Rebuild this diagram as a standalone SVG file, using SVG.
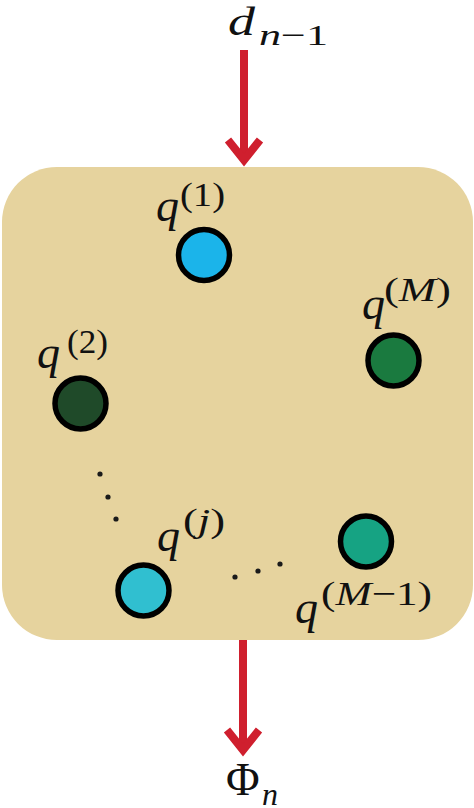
<svg xmlns="http://www.w3.org/2000/svg" width="474" height="808" viewBox="0 0 474 808">
<defs>
<style>
.box{fill:#e6d39e;}
.arrow{fill:none;stroke:#cf1f2e;stroke-width:8;stroke-linejoin:miter;stroke-miterlimit:10;}
.node{stroke:#000;stroke-width:5.5;}
.dot{fill:#1a1a1a;}
text{font-family:'Liberation Serif','DejaVu Serif',serif;fill:#111;}
.it{font-style:italic;}
.up{font-style:normal;}
</style>
</defs>
<rect width="474" height="808" fill="#ffffff"/>
<rect id="container" class="box" x="2" y="167" width="471" height="473" rx="55" ry="55"/>
<g id="connectors">
<line class="arrow" x1="244" y1="50" x2="244" y2="160"/>
<polyline class="arrow" points="228,140 244,160 260,140"/>
<line class="arrow" x1="243" y1="640" x2="243" y2="750"/>
<polyline class="arrow" points="227,730 243,750 259,730"/>
</g>
<g id="input-label">
<text class="it" x="228" y="35" font-size="40" textLength="27" lengthAdjust="spacingAndGlyphs">d</text>
<text class="it" x="259" y="45" font-size="30" textLength="69" lengthAdjust="spacingAndGlyphs">n<tspan class="up">−1</tspan></text>
</g>
<g id="output-label">
<text class="up" x="226" y="795" font-size="46">Φ</text>
<text class="it" x="262" y="805" font-size="32">n</text>
</g>
<g id="node-q1">
<circle class="node" cx="204" cy="255" r="25.5" fill="#1bb4ea"/>
<text class="it" x="156" y="221" font-size="46">q</text>
<text class="up" x="180" y="206" font-size="34" textLength="45" lengthAdjust="spacingAndGlyphs">(1)</text>
</g>
<g id="node-q2">
<circle class="node" cx="80.5" cy="403.5" r="25.5" fill="#1f4a29"/>
<text class="it" x="37" y="368" font-size="46">q</text>
<text class="up" x="67" y="353" font-size="34" textLength="41" lengthAdjust="spacingAndGlyphs">(2)</text>
</g>
<g id="node-qM">
<circle class="node" cx="393.5" cy="360.5" r="25.5" fill="#1a7a3f"/>
<text class="it" x="362" y="319" font-size="46">q</text>
<text class="up" x="384" y="301" font-size="34" textLength="67" lengthAdjust="spacingAndGlyphs">(<tspan class="it">M</tspan>)</text>
</g>
<g id="node-qj">
<circle class="node" cx="143.5" cy="590.5" r="25.5" fill="#30bfd0"/>
<text class="it" x="157" y="551" font-size="46">q</text>
<text class="up" x="183" y="532" font-size="34" textLength="42" lengthAdjust="spacingAndGlyphs">(<tspan class="it">j</tspan>)</text>
</g>
<g id="node-qM1">
<circle class="node" cx="366" cy="541.5" r="25.5" fill="#16a383"/>
<text class="it" x="295" y="623" font-size="46">q</text>
<text class="up" x="321" y="605" font-size="34" textLength="111" lengthAdjust="spacingAndGlyphs">(<tspan class="it">M</tspan>−1)</text>
</g>
<g id="ellipses">
<circle class="dot" cx="100" cy="474" r="2.6"/>
<circle class="dot" cx="108" cy="497" r="2.6"/>
<circle class="dot" cx="116" cy="519" r="2.6"/>
<circle class="dot" cx="235" cy="577" r="2.6"/>
<circle class="dot" cx="258" cy="571" r="2.6"/>
<circle class="dot" cx="280" cy="564" r="2.6"/>
</g>
</svg>
